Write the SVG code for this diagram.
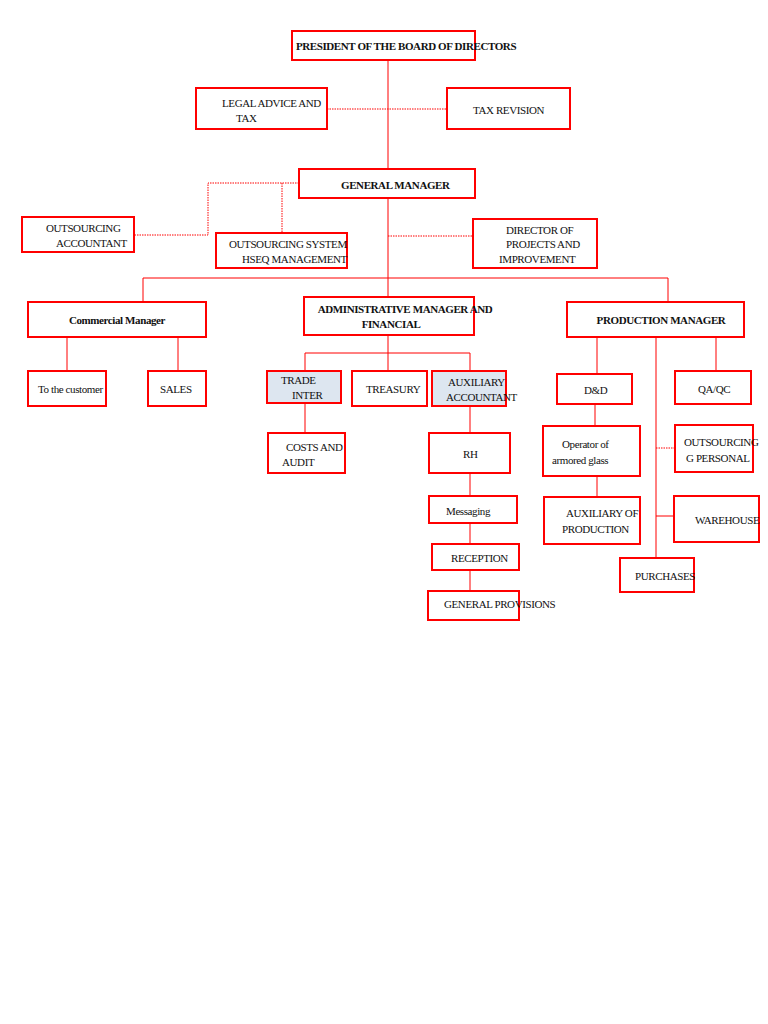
<svg xmlns="http://www.w3.org/2000/svg" width="768" height="1024" viewBox="0 0 768 1024">
<style>
.b{fill:#fff;stroke:#f00;stroke-width:2}
.f{fill:#dde6f0;stroke:#f00;stroke-width:2}
text{font-family:"Liberation Serif",serif;font-size:11px;fill:#111;letter-spacing:-0.4px}
.bd{font-weight:bold}
.l{stroke:#f00;stroke-width:1;fill:none}
.d{stroke:#f00;stroke-width:1;fill:none;stroke-dasharray:1.5 1}
</style>
<rect width="768" height="1024" fill="#fff"/>
<g id="connectors">
<path class="l" d="M388 60V297M143 302V278H668V302M67 337V371M178 337V371M388 335V353M305 371V353H470V371M388 353V371M305 403V433M470 406V433M470 473V496M470 523V544M470 570V591M597 337V374M716 337V371M656 337V558M595 404V426M597 476V497M656 516H674"/>
<path class="d" d="M327 109H447M299 183H208V235H135M282 183V233M388 236H473M656 448H675"/>
</g>
<g id="president"><rect class="b" x="292" y="31" width="183" height="29"/><text class="bd" x="406" y="50" text-anchor="middle" font-size="10">PRESIDENT OF THE BOARD OF DIRECTORS</text></g>
<g id="legal"><rect class="b" x="196" y="88" width="131" height="41"/><text x="222" y="107">LEGAL ADVICE AND</text><text x="236" y="122">TAX</text></g>
<g id="taxrev"><rect class="b" x="447" y="88" width="123" height="41"/><text x="473" y="114">TAX REVISION</text></g>
<g id="gm"><rect class="b" x="299" y="169" width="176" height="29"/><text class="bd" x="341" y="189" font-size="12">GENERAL MANAGER</text></g>
<g id="outacc"><rect class="b" x="22" y="217" width="112" height="35"/><text x="46" y="232">OUTSOURCING</text><text x="56" y="247">ACCOUNTANT</text></g>
<g id="outsys"><rect class="b" x="216" y="233" width="131" height="35"/><text x="229" y="248">OUTSOURCING SYSTEM</text><text x="242" y="263">HSEQ MANAGEMENT</text></g>
<g id="director"><rect class="b" x="473" y="219" width="124" height="49"/><text x="506" y="234">DIRECTOR OF</text><text x="506" y="248">PROJECTS AND</text><text x="499" y="263">IMPROVEMENT</text></g>
<g id="commercial"><rect class="b" x="28" y="302" width="178" height="35"/><text class="bd" x="117" y="324" text-anchor="middle" font-size="10.5">Commercial Manager</text></g>
<g id="admin"><rect class="b" x="304" y="297" width="170" height="38"/><text class="bd" x="405" y="313" text-anchor="middle" font-size="10.5">ADMINISTRATIVE MANAGER AND</text><text class="bd" x="391" y="328" text-anchor="middle" font-size="10.5">FINANCIAL</text></g>
<g id="production"><rect class="b" x="567" y="302" width="177" height="35"/><text class="bd" x="661" y="324" text-anchor="middle" font-size="10.5">PRODUCTION MANAGER</text></g>
<g id="customer"><rect class="b" x="28" y="371" width="78" height="35"/><text x="38" y="393" font-size="10.5">To the customer</text></g>
<g id="sales"><rect class="b" x="148" y="371" width="58" height="35"/><text x="160" y="393">SALES</text></g>
<g id="trade"><rect class="f" x="267" y="371" width="74" height="32"/><text x="281" y="384">TRADE</text><text x="292" y="399">INTER</text></g>
<g id="treasury"><rect class="b" x="352" y="371" width="75" height="35"/><text x="366" y="393">TREASURY</text></g>
<g id="auxacc"><rect class="f" x="432" y="371" width="74" height="35"/><text x="448" y="386">AUXILIARY</text><text x="446" y="401">ACCOUNTANT</text></g>
<g id="costs"><rect class="b" x="268" y="433" width="77" height="40"/><text x="286" y="451">COSTS AND</text><text x="282" y="466">AUDIT</text></g>
<g id="rh"><rect class="b" x="429" y="433" width="81" height="40"/><text x="463" y="458">RH</text></g>
<g id="messaging"><rect class="b" x="429" y="496" width="88" height="27"/><text x="446" y="515" font-size="10">Messaging</text></g>
<g id="reception"><rect class="b" x="432" y="544" width="87" height="26"/><text x="451" y="562">RECEPTION</text></g>
<g id="provisions"><rect class="b" x="428" y="591" width="91" height="29"/><text x="444" y="608" font-size="8">GENERAL PROVISIONS</text></g>
<g id="dd"><rect class="b" x="557" y="374" width="75" height="30"/><text x="584" y="394">D&amp;D</text></g>
<g id="qaqc"><rect class="b" x="675" y="371" width="76" height="33"/><text x="698" y="393">QA/QC</text></g>
<g id="operator"><rect class="b" x="543" y="426" width="97" height="50"/><text x="562" y="448" font-size="10.5">Operator of</text><text x="552" y="464" font-size="10.5">armored glass</text></g>
<g id="auxprod"><rect class="b" x="544" y="497" width="96" height="47"/><text x="566" y="517">AUXILIARY OF</text><text x="562" y="533">PRODUCTION</text></g>
<g id="outpers"><rect class="b" x="675" y="425" width="78" height="47"/><text x="684" y="446">OUTSOURCING</text><text x="686" y="462">G PERSONAL</text></g>
<g id="warehouse"><rect class="b" x="674" y="496" width="85" height="46"/><text x="695" y="524">WAREHOUSE</text></g>
<g id="purchases"><rect class="b" x="620" y="558" width="74" height="34"/><text x="635" y="580">PURCHASES</text></g>
</svg>
